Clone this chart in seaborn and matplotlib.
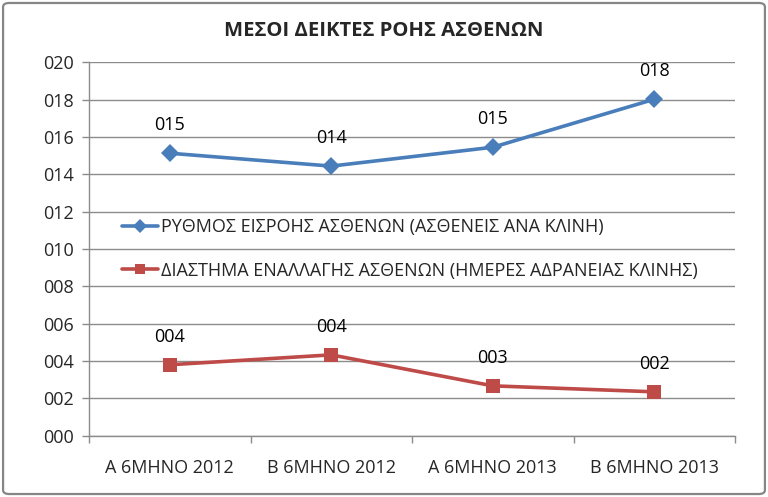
import matplotlib
matplotlib.use("Agg")
import matplotlib.pyplot as plt
from matplotlib.ticker import FuncFormatter, FixedLocator
from matplotlib.patches import FancyBboxPatch
import seaborn as sns
import pandas as pd

# ---- data ----
categories = ["A 6ΜΗΝΟ 2012", "B 6ΜΗΝΟ 2012", "A 6ΜΗΝΟ 2013", "B 6ΜΗΝΟ 2013"]
series_names = ["ΡΥΘΜΟΣ ΕΙΣΡΟΗΣ ΑΣΘΕΝΩΝ (ΑΣΘΕΝΕΙΣ ΑΝΑ ΚΛΙΝΗ)",
                "ΔΙΑΣΤΗΜΑ ΕΝΑΛΛΑΓΗΣ ΑΣΘΕΝΩΝ (ΗΜΕΡΕΣ ΑΔΡΑΝΕΙΑΣ ΚΛΙΝΗΣ)"]
inflow = [15.13, 14.44, 15.45, 18.02]
turnover = [3.80, 4.33, 2.67, 2.35]
title = "ΜΕΣΟΙ ΔΕΙΚΤΕΣ ΡΟΗΣ ΑΣΘΕΝΩΝ"
yticks = [0, 2, 4, 6, 8, 10, 12, 14, 16, 18, 20]

colors = ["#4A7EBB", "#BE4B48"]

sns.set_style("white")
plt.rcParams["font.family"] = ["Open Sans", "DejaVu Sans"]

df = pd.DataFrame({
    "cat": categories * 2,
    "x": list(range(len(categories))) * 2,
    "value": inflow + turnover,
    "series": [series_names[0]] * len(categories) + [series_names[1]] * len(categories),
})

fig = plt.figure(figsize=(7.68, 4.97), dpi=100)
ax = fig.add_axes([89 / 768, 1 - 435.7 / 497, (735 - 89) / 768, (435.7 - 62.3) / 497])

sns.lineplot(data=df, x="x", y="value", hue="series", style="series",
             palette=dict(zip(series_names, colors)),
             markers={series_names[0]: "D", series_names[1]: "s"},
             dashes=False, linewidth=2.6, markersize=9.5,
             markeredgewidth=0, ax=ax, legend=True, sort=False)

ax.set_xlim(-0.5, len(categories) - 0.5)
ax.set_ylim(0, 20)
ax.set_yticks(yticks)
ax.yaxis.set_major_formatter(FuncFormatter(lambda v, p: f"{int(round(v)):03d}"))
ax.set_xticks(range(len(categories)))
ax.set_xticklabels(categories)
ax.xaxis.set_minor_locator(FixedLocator([i - 0.5 for i in range(len(categories) + 1)]))
ax.set_xlabel("")
ax.set_ylabel("")

ax.grid(axis="y", color="#8C8C8C", linewidth=1.0)
ax.set_axisbelow(True)
for s in ["top", "right"]:
    ax.spines[s].set_visible(False)
for s in ["left", "bottom"]:
    ax.spines[s].set_color("#8C8C8C")
    ax.spines[s].set_linewidth(1.0)

ax.tick_params(axis="y", which="major", length=5, color="#8C8C8C", width=1,
               labelsize=13, pad=6, left=True)
ax.tick_params(axis="x", which="major", length=0, labelsize=13, pad=17)
ax.tick_params(axis="x", which="minor", length=5, color="#8C8C8C", width=1, bottom=True)

# data labels
for vals in (inflow, turnover):
    for i, v in enumerate(vals):
        ax.annotate(f"{int(round(v)):03d}", (i, v), xytext=(0, 20),
                    textcoords="offset points", ha="center", va="center",
                    fontsize=13, color="#000000")

leg = ax.legend(loc="center left", bbox_to_anchor=(0.051, 0.5), frameon=False,
                fontsize=13, handlelength=2.0, handletextpad=0.15,
                labelspacing=1.4, borderpad=0, borderaxespad=0, markerscale=0.7)

fig.text(384 / 768, 1 - 31 / 497, title, ha="center", va="center",
         fontsize=14.6, fontweight="bold")

fig.patches.append(FancyBboxPatch((0.004, 0.006), 0.992, 0.988,
                                  boxstyle="round,pad=0,rounding_size=0.008",
                                  transform=fig.transFigure, fill=False,
                                  edgecolor="#868686", linewidth=1.6))

fig.savefig("out.png", dpi=100)
